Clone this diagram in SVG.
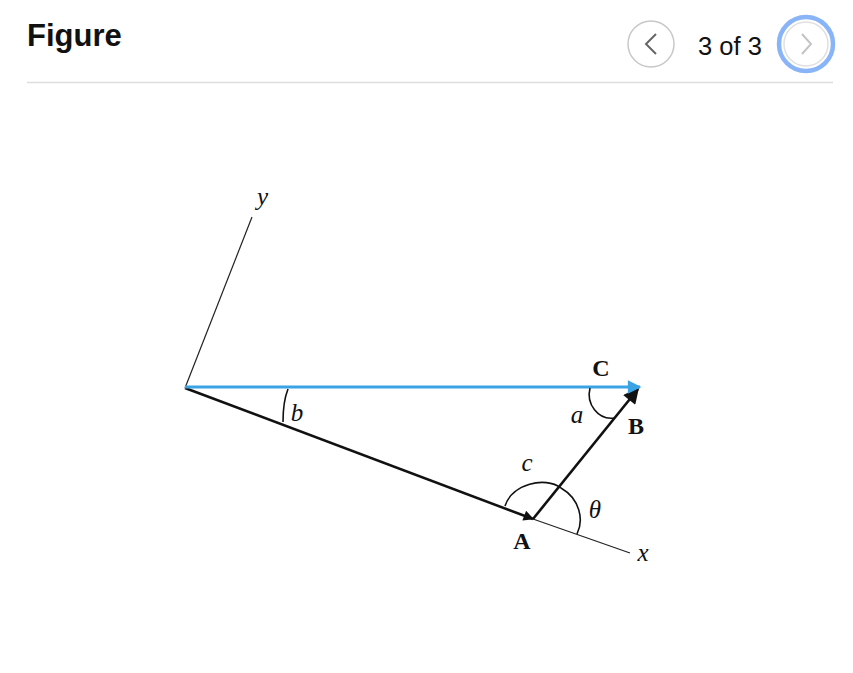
<svg xmlns="http://www.w3.org/2000/svg" width="853" height="673" viewBox="0 0 853 673">
<defs>
<style>
.hdr{font-family:"Liberation Sans",Arial,sans-serif;fill:#111}
.lbl{font-family:"Liberation Serif","Times New Roman",serif;fill:#111}
.it{font-style:italic;font-size:25px}
.bd{font-weight:bold;font-size:24px}
.thin{stroke:#222;stroke-width:1.2;fill:none}
.thick{stroke:#111;stroke-width:2.6;fill:none}
.arc{stroke:#111;stroke-width:1.6;fill:none}
</style>
<marker id="blk" viewBox="0 0 10 10" refX="9" refY="5" markerWidth="7" markerHeight="6" markerUnits="strokeWidth" orient="auto">
<path d="M0,0 L10,5 L0,10 z" fill="#111"/>
</marker>
<marker id="blkS" viewBox="0 0 10 10" refX="9" refY="5" markerWidth="6" markerHeight="4" markerUnits="strokeWidth" orient="auto">
<path d="M0,0 L10,5 L0,10 z" fill="#111"/>
</marker>
<marker id="blu" viewBox="0 0 10 10" refX="9" refY="5" markerWidth="6" markerHeight="4.5" markerUnits="strokeWidth" orient="auto">
<path d="M0,0 L10,5 L0,10 z" fill="#3aa3e3"/>
</marker>
</defs>
<rect width="853" height="673" fill="#fff"/>
<g id="header">
<text class="hdr" x="27" y="46" font-size="31" font-weight="bold">Figure</text>
<line x1="27" y1="82.5" x2="833" y2="82.5" stroke="#ddd" stroke-width="1.5"/>
<circle cx="651" cy="44" r="23" fill="#fff" stroke="#c8c8c8" stroke-width="1.5"/>
<path d="M656,34 L646,44 L656,54" fill="none" stroke="#666" stroke-width="2"/>
<text class="hdr" x="730" y="55" font-size="25.5" text-anchor="middle" fill="#222">3 of 3</text>
<circle cx="806" cy="44" r="27" fill="none" stroke="#8ab4f8" stroke-width="4.5"/>
<circle cx="806" cy="44" r="22" fill="#fff" stroke="#e0e0e0" stroke-width="1.5"/>
<path d="M802,34 L811,44 L802,54" fill="none" stroke="#c4c4c4" stroke-width="2"/>
</g>
<g id="connectors">
<line id="y-axis" class="thin" x1="185" y1="388" x2="252" y2="217"/>
<line id="x-axis" class="thin" x1="533" y1="519" x2="630" y2="553"/>
<line id="OA" class="thick" x1="185" y1="388" x2="533" y2="519" marker-end="url(#blkS)"/>
<line id="AB" class="thick" x1="533" y1="519" x2="638" y2="389" marker-end="url(#blk)"/>
<line id="OC" x1="185" y1="387" x2="640" y2="387" stroke="#3aa3e3" stroke-width="3" marker-end="url(#blu)"/>
</g>
<g id="angles">
<path id="arc-c" class="arc" d="M505,506 C512,484 545,476 561,488"/>
<path id="arc-theta" class="arc" d="M561,488 C580,499 584,520 577,534"/>
<path id="arc-a" class="arc" d="M590,388 C586,404 598,420 614,418"/>
<path id="arc-b" class="arc" d="M288,389 C284,399 283,410 283,422"/>
</g>
<g id="labels">
<text class="lbl it" x="257" y="205">y</text>
<text class="lbl it" x="643" y="561" text-anchor="middle">x</text>
<text class="lbl it" x="297" y="421" text-anchor="middle">b</text>
<text class="lbl it" x="577" y="423" text-anchor="middle">a</text>
<text class="lbl it" x="527" y="471" text-anchor="middle">c</text>
<text class="lbl it" x="595" y="518" text-anchor="middle">θ</text>
<text class="lbl bd" x="601" y="376" text-anchor="middle">C</text>
<text class="lbl bd" x="636" y="434" text-anchor="middle">B</text>
<text class="lbl bd" x="522" y="549" text-anchor="middle">A</text>
</g>
</svg>
